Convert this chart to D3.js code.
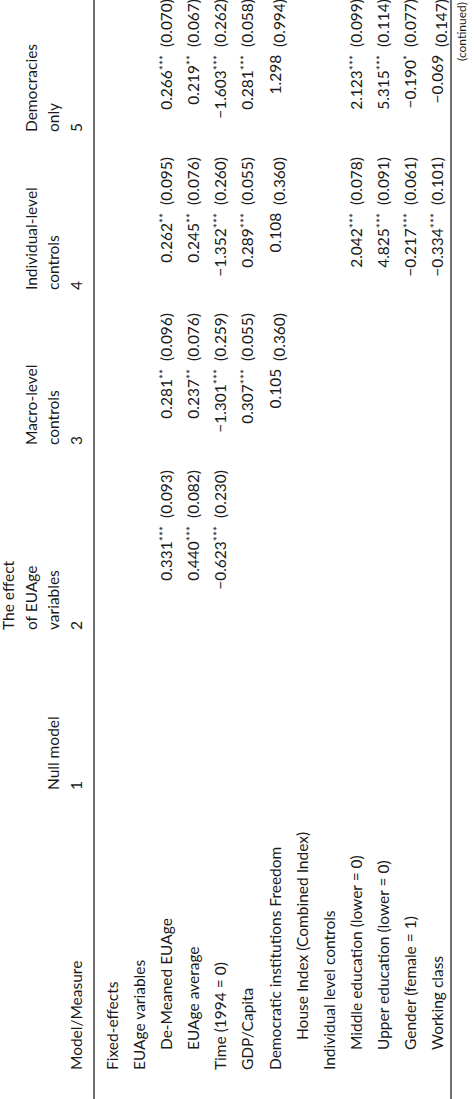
<!DOCTYPE html>
<html><head><meta charset="utf-8">
<script src="https://cdn.jsdelivr.net/npm/d3@7"></script>
<style>body{margin:0;background:#fff}svg{display:block}text{font-family:Lato,"Open Sans",sans-serif;fill:#1a1a1a}</style>
</head><body><svg id="c" width="474" height="1099"></svg>
<script>
var W = 1099, H = 474;

var headers = [
  ["Model/Measure"],
  ["Null model", "1"],
  ["The effect", "of EUAge", "variables", "2"],
  ["Macro-level", "controls", "3"],
  ["Individual-level", "controls", "4"],
  ["Democracies", "only", "5"]
];
var rowLabels = [
  "Fixed-effects", "EUAge variables", "De-Meaned EUAge", "EUAge average", "Time (1994 = 0)",
  "GDP/Capita", "Democratic institutions Freedom", "House Index (Combined Index)",
  "Individual level controls", "Middle education (lower = 0)", "Upper education (lower = 0)",
  "Gender (female = 1)", "Working class"
];
var rowIndent = [0, 0, 1, 1, 0, 0, 0, 1.5, 0, 1, 1, 1, 1];
// [coef, stars, se] per model column (2..5), null for empty
var model2 = [null, null, ["0.331", "***", "0.093"], ["0.440", "***", "0.082"], ["\u22120.623", "***", "0.230"], null, null, null, null, null, null, null, null];
var model3 = [null, null, ["0.281", "**", "0.096"], ["0.237", "**", "0.076"], ["\u22121.301", "***", "0.259"], ["0.307", "***", "0.055"], ["0.105", "", "0.360"], null, null, null, null, null, null];
var model4 = [null, null, ["0.262", "**", "0.095"], ["0.245", "**", "0.076"], ["\u22121.352", "***", "0.260"], ["0.289", "***", "0.055"], ["0.108", "", "0.360"], null, null, ["2.042", "***", "0.078"], ["4.825", "***", "0.091"], ["\u22120.217", "***", "0.061"], ["\u22120.334", "***", "0.101"]];
var model5 = [null, null, ["0.266", "***", "0.070"], ["0.219", "**", "0.067"], ["\u22121.603", "***", "0.262"], ["0.281", "***", "0.058"], ["1.298", "", "0.994"], null, null, ["2.123", "***", "0.099"], ["5.315", "***", "0.114"], ["\u22120.190", "*", "0.077"], ["\u22120.069", "", "0.147"]];
var models = [model2, model3, model4, model5];

var colLeft = [29, 309, 469, 654, 809, 967];
var colRight = [629, 786, 942, 1100];

var svg = d3.select("#c");
var g = svg.append("g").attr("transform", `translate(0,${W}) rotate(-90)`);

var headY = d3.scalePoint().domain(d3.range(4)).range([14, 82]);
var rowY = d3.scalePoint().domain(d3.range(rowLabels.length)).range([118, 443]);

// rules
g.selectAll("line.rule").data([94, 451]).enter().append("line")
  .attr("x1", 0).attr("x2", W).attr("y1", d => d).attr("y2", d => d)
  .attr("stroke", "#222").attr("stroke-width", 1.3);

// headers, bottom aligned
headers.forEach((lines, c) => {
  var off = 4 - lines.length;
  g.selectAll(null).data(lines).enter().append("text")
    .attr("x", colLeft[c]).attr("y", (d, i) => headY(i + off))
    .attr("font-size", 15.5).text(d => d);
});

g.selectAll("text.row").data(rowLabels).enter().append("text")
  .attr("x", (d, i) => colLeft[0] + rowIndent[i] * 20)
  .attr("y", (d, i) => rowY(i)).attr("font-size", 15.5).text(d => d);

models.forEach((m, c) => {
  var t = g.selectAll(null).data(m.map((d, i) => ({d, i})).filter(o => o.d)).enter().append("text")
    .attr("x", colRight[c]).attr("y", o => rowY(o.i)).attr("text-anchor", "end").attr("font-size", 15.5)
    .attr("xml:space", "preserve");
  t.append("tspan").text(o => o.d[0]);
  t.append("tspan").attr("font-size", 12).attr("dy", -4).text(o => o.d[1]);
  t.append("tspan").attr("dy", 4).text(o => "\u00a0\u00a0(" + o.d[2] + ")");
});

g.append("text").attr("x", 1097).attr("y", 466).attr("text-anchor", "end")
  .attr("font-size", 12).text("(continued)");
</script></body></html>
